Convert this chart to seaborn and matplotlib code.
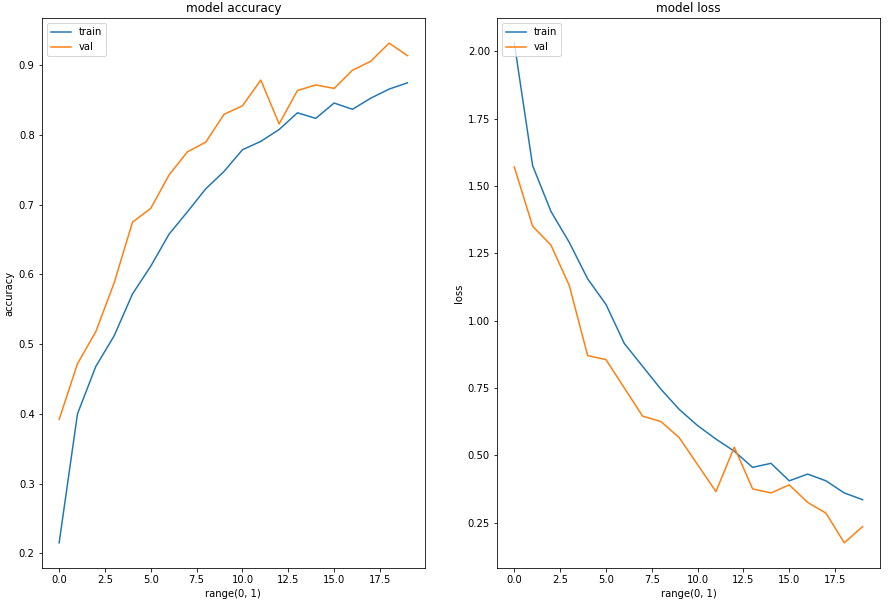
import seaborn as sns
import matplotlib.pyplot as plt

epochs = list(range(20))
acc_train = [0.215, 0.400, 0.468, 0.512, 0.572, 0.612, 0.658, 0.690, 0.723, 0.748,
             0.779, 0.791, 0.808, 0.832, 0.824, 0.846, 0.837, 0.853, 0.866, 0.875]
acc_val = [0.392, 0.472, 0.518, 0.588, 0.675, 0.695, 0.743, 0.776, 0.790, 0.830,
           0.842, 0.879, 0.816, 0.864, 0.872, 0.867, 0.893, 0.906, 0.932, 0.914]
loss_train = [2.03, 1.575, 1.405, 1.29, 1.155, 1.06, 0.915, 0.83, 0.745, 0.67,
              0.61, 0.56, 0.515, 0.455, 0.47, 0.405, 0.43, 0.405, 0.36, 0.335]
loss_val = [1.57, 1.35, 1.28, 1.13, 0.87, 0.855, 0.75, 0.645, 0.625, 0.565,
            0.465, 0.365, 0.53, 0.375, 0.36, 0.39, 0.325, 0.285, 0.175, 0.235]

fig, axes = plt.subplots(1, 2, figsize=(888 / 72, 604 / 72), dpi=72)

# Accuracy
ax = axes[0]
sns.lineplot(x=epochs, y=acc_train, ax=ax, label='train')
sns.lineplot(x=epochs, y=acc_val, ax=ax, label='val')
ax.set_title('model accuracy')
ax.set_ylabel('accuracy')
ax.set_xlabel('range(0, 1)')
ax.legend(loc='upper left')

# Loss
ax = axes[1]
sns.lineplot(x=epochs, y=loss_train, ax=ax, label='train')
sns.lineplot(x=epochs, y=loss_val, ax=ax, label='val')
ax.set_title('model loss')
ax.set_ylabel('loss')
ax.set_xlabel('range(0, 1)')
ax.legend(loc='upper left')

plt.subplots_adjust(left=0.047, right=0.991, top=0.970, bottom=0.06, wspace=0.188)
plt.savefig('out.png', dpi=72)
